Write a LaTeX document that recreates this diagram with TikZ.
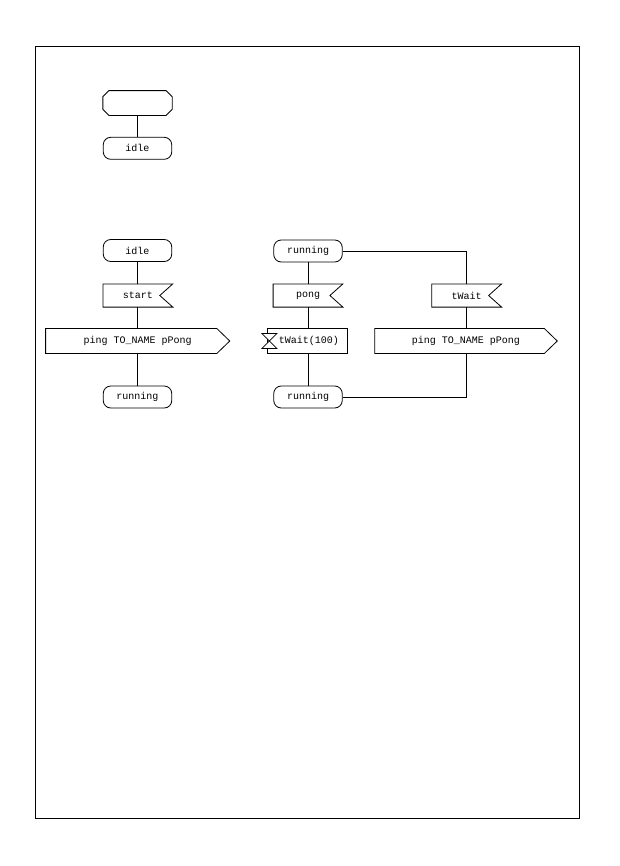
\documentclass[tikz,border=0pt]{standalone}
\usepackage{fontspec}
\setmainfont{Liberation Mono}

\tikzset{
  every node/.style={font=\fontsize{10bp}{12bp}\selectfont, inner sep=0pt},
  begin/.style={minimum width=68.5bp, minimum height=24bp,
    append after command={\pgfextra{\draw
      ([xshift=6bp]\tikzlastnode.north west) -- ([xshift=-6bp]\tikzlastnode.north east)
      -- ([yshift=-6bp]\tikzlastnode.north east) -- ([yshift=6bp]\tikzlastnode.south east)
      -- ([xshift=-6bp]\tikzlastnode.south east) -- ([xshift=6bp]\tikzlastnode.south west)
      -- ([yshift=6bp]\tikzlastnode.south west) -- ([yshift=-6bp]\tikzlastnode.north west)
      -- cycle;}}},
  state/.style={draw, rounded corners=7.5bp, minimum width=68.5bp, minimum height=22bp},
  input/.style={minimum width=69bp, minimum height=22.4bp,
    append after command={\pgfextra{\draw
      (\tikzlastnode.north west) -- (\tikzlastnode.north east)
      -- ([xshift=-13bp]\tikzlastnode.east) -- (\tikzlastnode.south east)
      -- (\tikzlastnode.south west) -- cycle;}}},
  output/.style={minimum height=24.3bp,
    append after command={\pgfextra{\draw
      (\tikzlastnode.north west) -- ([xshift=-13bp]\tikzlastnode.north east)
      -- (\tikzlastnode.east) -- ([xshift=-13bp]\tikzlastnode.south east)
      -- (\tikzlastnode.south west) -- cycle;}}},
  timer/.style={draw, minimum width=79.4bp, minimum height=24.3bp}
}

\begin{document}
\begin{tikzpicture}[x=1bp, y=-1bp, line width=0.8bp]
\useasboundingbox (0,0) rectangle (620,866);
\draw (35.5,46) rectangle (579,818);

% Nodes
\node[begin] (b0) at (137.5,103) {};
\node[state] (s0) at (137.5,148.3) {idle};

\node[state] (s1) at (137.5,250.5) {idle};
\node[input] (i0) at (137.9,295.5) {start};
\node[output, minimum width=183.3bp] (o0) at (137.7,341) {ping TO\_NAME pPong};
\node[state] (s2) at (137.5,397) {running};

\node[state] (s3) at (308,251) {running};
\node[input] (i1) at (308,295.5) {pong};
\node[timer] (t0) at (307.5,341) {\hspace*{3bp}tWait(100)};
\node[state] (s4) at (308,397) {running};

\node[input] (i2) at (466.7,295.5) {tWait};
\node[output, minimum width=181.7bp] (o1) at (466,341) {ping TO\_NAME pPong};

% Hourglass
\draw[fill=white] ([xshift=-5.5bp,yshift=7.5bp]t0.west) -- ++(15,0) -- ++(-15,15) -- ++(15,0) -- cycle;

% Lines
\draw (b0.south) -- (s0.north);
\draw (s1.south) -- (s1.south |- i0.north);
\draw (s1.south |- i0.south) -- (s1.south |- o0.north);
\draw (s1.south |- o0.south) -- (s2.north);
\draw (s3.south) -- (s3.south |- i1.north);
\draw (s3.south |- i1.south) -- (s3.south |- t0.north);
\draw (s3.south |- t0.south) -- (s4.north);
\draw (s3.east) -| (i2.north);
\draw (i2.south) -- (i2.south |- o1.north);
\draw (i2.south |- o1.south) |- (s4.east);

\end{tikzpicture}
\end{document}
